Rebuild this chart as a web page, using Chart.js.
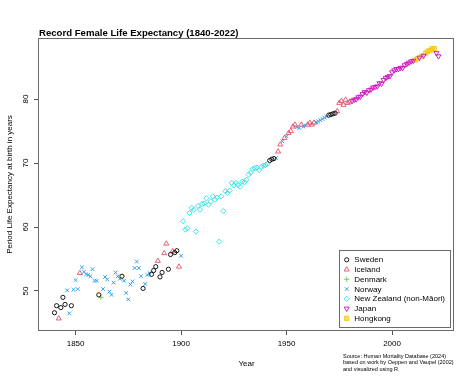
<!DOCTYPE html>
<html>
<head>
<meta charset="utf-8">
<script src="https://cdn.jsdelivr.net/npm/chart.js@4/dist/chart.umd.min.js"></script>
<style>
html,body{margin:0;padding:0;background:#fff;}
#wrap{width:474px;height:379px;}
</style>
</head>
<body>
<div id="wrap"><canvas id="c" width="474" height="379"></canvas></div>
<script>
// ---------------- data ----------------
const swedenYears = [1840,1841,1843,1844,1845,1848,1861,1872,1882,1886,1887,1888,1890,1891,1894,1895,1897,1898,1942,1943,1944,1970,1971,1972,1973];
const swedenLE    = [46.6,47.7,47.4,49.0,47.9,47.7,49.4,52.3,50.4,52.6,53.2,53.8,52.2,52.9,53.4,55.7,56.0,56.3,70.4,70.6,70.7,77.5,77.6,77.7,77.8];

const icelandYears = [1842,1852,1889,1892,1893,1896,1899,1946,1947,1949,1951,1952,1953,1954,1957,1960,1961,1962,1963,1974,1975,1976,1977,1978,1979,1980];
const icelandLE    = [45.7,52.8,54.7,55.9,57.4,56.2,53.8,71.8,72.9,73.9,74.7,75.0,75.7,76.0,76.0,76.0,76.3,76.0,76.3,78.1,79.4,79.7,79.1,79.9,79.4,79.6];

const denmarkYears = [1862];
const denmarkLE    = [49.0];

const norwayYears = [1846,1847,1849,1850,1851,1853,1854,1855,1856,1857,1858,1859,1860,1863,1864,1865,1866,1867,1868,1869,1870,1871,1873,1874,1875,1876,1877,1878,1879,1880,1881,1883,1884,1885,1900,1945,1948,1950,1955,1956,1958,1959,1964,1965,1966,1967,1968,1969];
const norwayLE    = [50.1,46.5,50.2,51.7,50.3,53.7,53.0,52.6,52.5,52.3,53.4,51.6,51.6,50.3,52.2,51.8,49.9,49.4,51.3,52.9,52.3,51.9,51.6,49.7,48.7,51.0,51.5,53.6,54.6,53.6,52.3,51.1,52.5,52.8,55.5,70.8,73.4,74.2,75.6,75.5,75.7,75.9,76.4,76.5,76.7,76.9,77.1,77.3];

const nzYears = [1901,1902,1903,1904,1905,1906,1907,1908,1909,1910,1911,1912,1913,1914,1915,1916,1917,1918,1919,1920,1921,1922,1923,1924,1925,1926,1927,1928,1929,1930,1931,1932,1933,1934,1935,1936,1937,1938,1939,1940,1941];
const nzLE    = [60.9,59.6,59.8,62.2,63.0,62.7,59.3,63.3,62.7,63.6,63.7,64.5,63.5,64.0,64.8,64.3,64.6,57.7,64.8,62.5,65.6,65.3,65.7,66.9,66.5,66.9,66.6,66.3,67.1,67.0,67.4,68.2,68.5,69.1,69.2,69.3,68.9,69.4,69.6,69.7,69.9];

const japanYears = [1981,1982,1983,1984,1985,1986,1987,1988,1989,1990,1991,1992,1993,1994,1995,1996,1997,1998,1999,2000,2001,2002,2003,2004,2005,2006,2007,2008,2009,2010,2013,2015,2021,2022];
const japanLE    = [79.7,79.9,80.0,80.3,80.4,80.8,81.1,81.0,81.4,81.5,81.8,81.9,82.0,82.5,82.4,83.0,83.3,83.5,83.6,84.2,84.5,84.7,84.7,84.9,84.9,85.3,85.5,85.7,85.9,86.0,86.5,86.8,87.2,86.7];

const hkYears = [2011,2012,2014,2016,2017,2018,2019,2020];
const hkLE    = [86.1,86.3,86.7,87.2,87.5,87.6,87.9,87.9];

const countryNames = ["Sweden","Iceland","Denmark","Norway","New Zealand (non-Māori)","Japan","Hongkong"];
const xTicks = [1850,1900,1950,2000];
const yTicks = [50,60,70,80];

// ---------------- styles ----------------
const FONT = '"Liberation Sans", Arial, Helvetica, sans-serif';
const colors = ["#000000","#DF536B","#61D04F","#2297E6","#28E2E5","#CD0BBC","#F5C710"];
const styles = [
  {pointStyle:'circle', rotation:0, radius:2.1, fill:'rgba(0,0,0,0)'},
  {pointStyle:'triangle', rotation:0, radius:2.9, fill:'rgba(0,0,0,0)'},
  {pointStyle:'cross', rotation:0, radius:2.6, fill:'rgba(0,0,0,0)'},
  {pointStyle:'crossRot', rotation:0, radius:2.6, fill:'rgba(0,0,0,0)'},
  {pointStyle:'rectRot', rotation:0, radius:2.6, fill:'rgba(0,0,0,0)'},
  {pointStyle:'triangle', rotation:180, radius:2.9, fill:'rgba(0,0,0,0)'},
  {pointStyle:'rect', rotation:0, radius:3.0, fill:'rgba(245,199,16,0.55)'}
];

const seriesYears = [swedenYears, icelandYears, denmarkYears, norwayYears, nzYears, japanYears, hkYears];
const seriesLE = [swedenLE, icelandLE, denmarkLE, norwayLE, nzLE, japanLE, hkLE];

const datasets = countryNames.map((name, i) => ({
  label: name,
  data: seriesYears[i].map((yr, j) => ({x: yr, y: seriesLE[i][j]})),
  pointStyle: styles[i].pointStyle,
  rotation: styles[i].rotation,
  pointRadius: styles[i].radius,
  pointHoverRadius: styles[i].radius,
  borderColor: colors[i],
  backgroundColor: styles[i].fill,
  borderWidth: 0.9,
  showLine: false
}));

const deco = {
  id: 'deco',
  afterDraw(chart) {
    const ctx = chart.ctx, a = chart.chartArea, ys = chart.scales.y;
    ctx.save();
    // plot box
    ctx.strokeStyle = '#6a6a6a';
    ctx.lineWidth = 1;
    ctx.strokeRect(Math.round(a.left) - 0.5, Math.round(a.top) - 0.5,
                   Math.round(a.right - a.left) + 0, Math.round(a.bottom - a.top) + 1);
    // y tick labels (rotated, as in R)
    ctx.fillStyle = '#000';
    ctx.font = '8px ' + FONT;
    ctx.textAlign = 'center';
    ctx.textBaseline = 'middle';
    yTicks.forEach(v => {
      const py = ys.getPixelForValue(v);
      ctx.save();
      ctx.translate(26, py);
      ctx.rotate(-Math.PI / 2);
      ctx.fillText(String(v), 0, 0);
      ctx.restore();
    });
    // y axis title
    ctx.save();
    ctx.translate(10, (a.top + a.bottom) / 2);
    ctx.rotate(-Math.PI / 2);
    ctx.fillText('Period Life Expectancy at birth in years', 0, 0);
    ctx.restore();
    // x axis title
    ctx.fillText('Year', (a.left + a.right) / 2, 364);
    // main title
    ctx.font = 'bold 9.6px ' + FONT;
    ctx.textAlign = 'left';
    ctx.fillText('Record Female Life Expectancy (1840-2022)', 39, 33.5);
    // source note
    ctx.font = '5.5px ' + FONT;
    ctx.fillText('Source: Human Mortality Database (2024)', 343, 356);
    ctx.fillText('based on work by Oeppen and Vaupel (2002)', 343, 362.8);
    ctx.fillText('and visualized using R.', 343, 369.6);
    // legend
    const lx = 339.5, ly = 250.5, lw = 111, lh = 77;
    ctx.fillStyle = '#fff';
    ctx.fillRect(lx, ly, lw, lh);
    ctx.strokeStyle = '#6a6a6a';
    ctx.lineWidth = 1;
    ctx.strokeRect(lx, ly, lw, lh);
    ctx.font = '8px ' + FONT;
    ctx.textBaseline = 'middle';
    ctx.textAlign = 'left';
    countryNames.forEach((name, i) => {
      const cy = 259.8 + i * 9.75;
      ctx.strokeStyle = colors[i];
      ctx.fillStyle = styles[i].fill;
      ctx.lineWidth = 0.9;
      Chart.helpers.drawPoint(ctx, {pointStyle: styles[i].pointStyle, rotation: styles[i].rotation,
        radius: styles[i].radius, borderWidth: 0.9}, 346.7, cy);
      ctx.fillStyle = '#000';
      ctx.fillText(name, 354.3, cy + 0.3);
    });
    ctx.restore();
  }
};

new Chart(document.getElementById('c'), {
  type: 'scatter',
  data: {datasets},
  options: {
    responsive: false,
    animation: false,
    devicePixelRatio: 1,
    layout: {padding: {left: 0, top: 39, right: 20, bottom: 0}},
    plugins: {legend: {display: false}, tooltip: {enabled: false}, title: {display: false}},
    scales: {
      x: {
        type: 'linear',
        min: 1832.66, max: 2029.36,
        afterBuildTicks: s => { s.ticks = xTicks.map(v => ({value: v})); },
        afterFit: s => { s.height = 49; },
        grid: {drawOnChartArea: false, drawTicks: true, tickLength: 5, tickColor: '#555', tickWidth: 1},
        border: {display: false},
        ticks: {color: '#000', font: {family: FONT, size: 8}, padding: 4, maxRotation: 0,
                callback: v => String(v)}
      },
      y: {
        type: 'linear',
        min: 43.9, max: 89.4,
        afterBuildTicks: s => { s.ticks = yTicks.map(v => ({value: v})); },
        afterFit: s => { s.width = 39; },
        grid: {drawOnChartArea: false, drawTicks: true, tickLength: 5, tickColor: '#555', tickWidth: 1},
        border: {display: false},
        ticks: {display: false}
      }
    }
  },
  plugins: [deco]
});
</script>
</body>
</html>
